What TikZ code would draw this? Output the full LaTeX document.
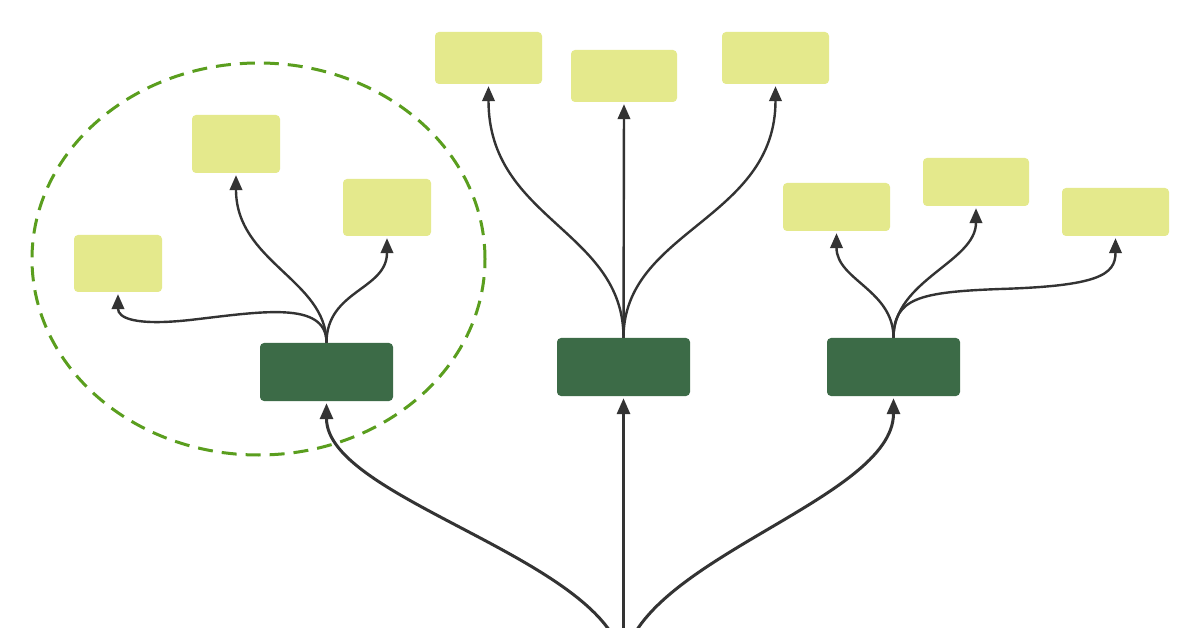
\documentclass[tikz,border=0pt]{standalone}
\usetikzlibrary{arrows.meta}
\definecolor{leafc}{HTML}{E4E98C}
\definecolor{branchc}{HTML}{3C6B47}
\definecolor{ringc}{HTML}{5A9E1E}
\definecolor{linec}{HTML}{333333}
\begin{document}
\begin{tikzpicture}[x=1pt,y=-1pt,
  leaf/.style={fill=leafc,rounded corners=4pt,inner sep=0pt},
  branch/.style={fill=branchc,rounded corners=4pt,inner sep=0pt},
  conn/.style={draw=linec,line width=2.4pt,-{Triangle[length=15pt,width=12.5pt]},shorten >=2pt},
  trunk/.style={draw=linec,line width=3pt,-{Triangle[length=16pt,width=13pt]},shorten >=2pt},
  ring/.style={draw=ringc,line width=3pt,dash pattern=on 15pt off 9pt}]
\useasboundingbox (0,0) rectangle (1200,628);
\clip (0,0) rectangle (1200,628);
\fill[white] (0,0) rectangle (1200,628);
% ring
\draw[ring] (258.5,259) ellipse [x radius=226.5pt, y radius=196pt];
% branch nodes
\node[branch,minimum width=133pt,minimum height=58pt] (d1) at (326.5,372) {};
\node[branch,minimum width=133pt,minimum height=58pt] (d2) at (623.5,367) {};
\node[branch,minimum width=133pt,minimum height=58pt] (d3) at (893.5,367) {};
% leaves left
\node[leaf,minimum width=88pt,minimum height=57pt] (l1) at (118,263.5) {};
\node[leaf,minimum width=88pt,minimum height=58pt] (l2) at (236,144) {};
\node[leaf,minimum width=88pt,minimum height=57pt] (l3) at (387,207.5) {};
% leaves middle
\node[leaf,minimum width=107pt,minimum height=52pt] (m1) at (488.5,58) {};
\node[leaf,minimum width=106pt,minimum height=52pt] (m2) at (624,76) {};
\node[leaf,minimum width=107pt,minimum height=52pt] (m3) at (775.5,58) {};
% leaves right
\node[leaf,minimum width=107pt,minimum height=48pt] (r1) at (836.5,207) {};
\node[leaf,minimum width=106pt,minimum height=48pt] (r2) at (976,182) {};
\node[leaf,minimum width=107pt,minimum height=48pt] (r3) at (1115.5,212) {};
% root
\coordinate (root) at (623.5,665);
% trunks
\draw[trunk] (root) .. controls (612,560) and (326.5,500) .. (d1.south);
\draw[trunk] (root) -- (d2.south);
\draw[trunk] (root) .. controls (635,560) and (893.5,500) .. (d3.south);
% left cluster
\draw[conn] (d1.north) .. controls (326.5,290) and (387,290) .. (l3.south);
\draw[conn] (d1.north) .. controls (326.5,280) and (236,262) .. (l2.south);
\draw[conn] (d1.north) .. controls (326.5,300) and (260,312) .. (190,320) .. controls (135,326) and (118,318) .. (l1.south);
% middle cluster
\draw[conn] (d2.north) .. controls (623.5,230) and (488.5,220) .. (m1.south);
\draw[conn] (d2.north) -- (m2.south);
\draw[conn] (d2.north) .. controls (623.5,230) and (775.5,220) .. (m3.south);
% right cluster
\draw[conn] (d3.north) .. controls (893.5,290) and (836.5,280) .. (r1.south);
\draw[conn] (d3.north) .. controls (893.5,280) and (976,262) .. (r2.south);
\draw[conn] (d3.north) .. controls (893.5,298) and (920,292) .. (1000,289) .. controls (1098,286) and (1115.5,275) .. (r3.south);
\end{tikzpicture}
\end{document}
